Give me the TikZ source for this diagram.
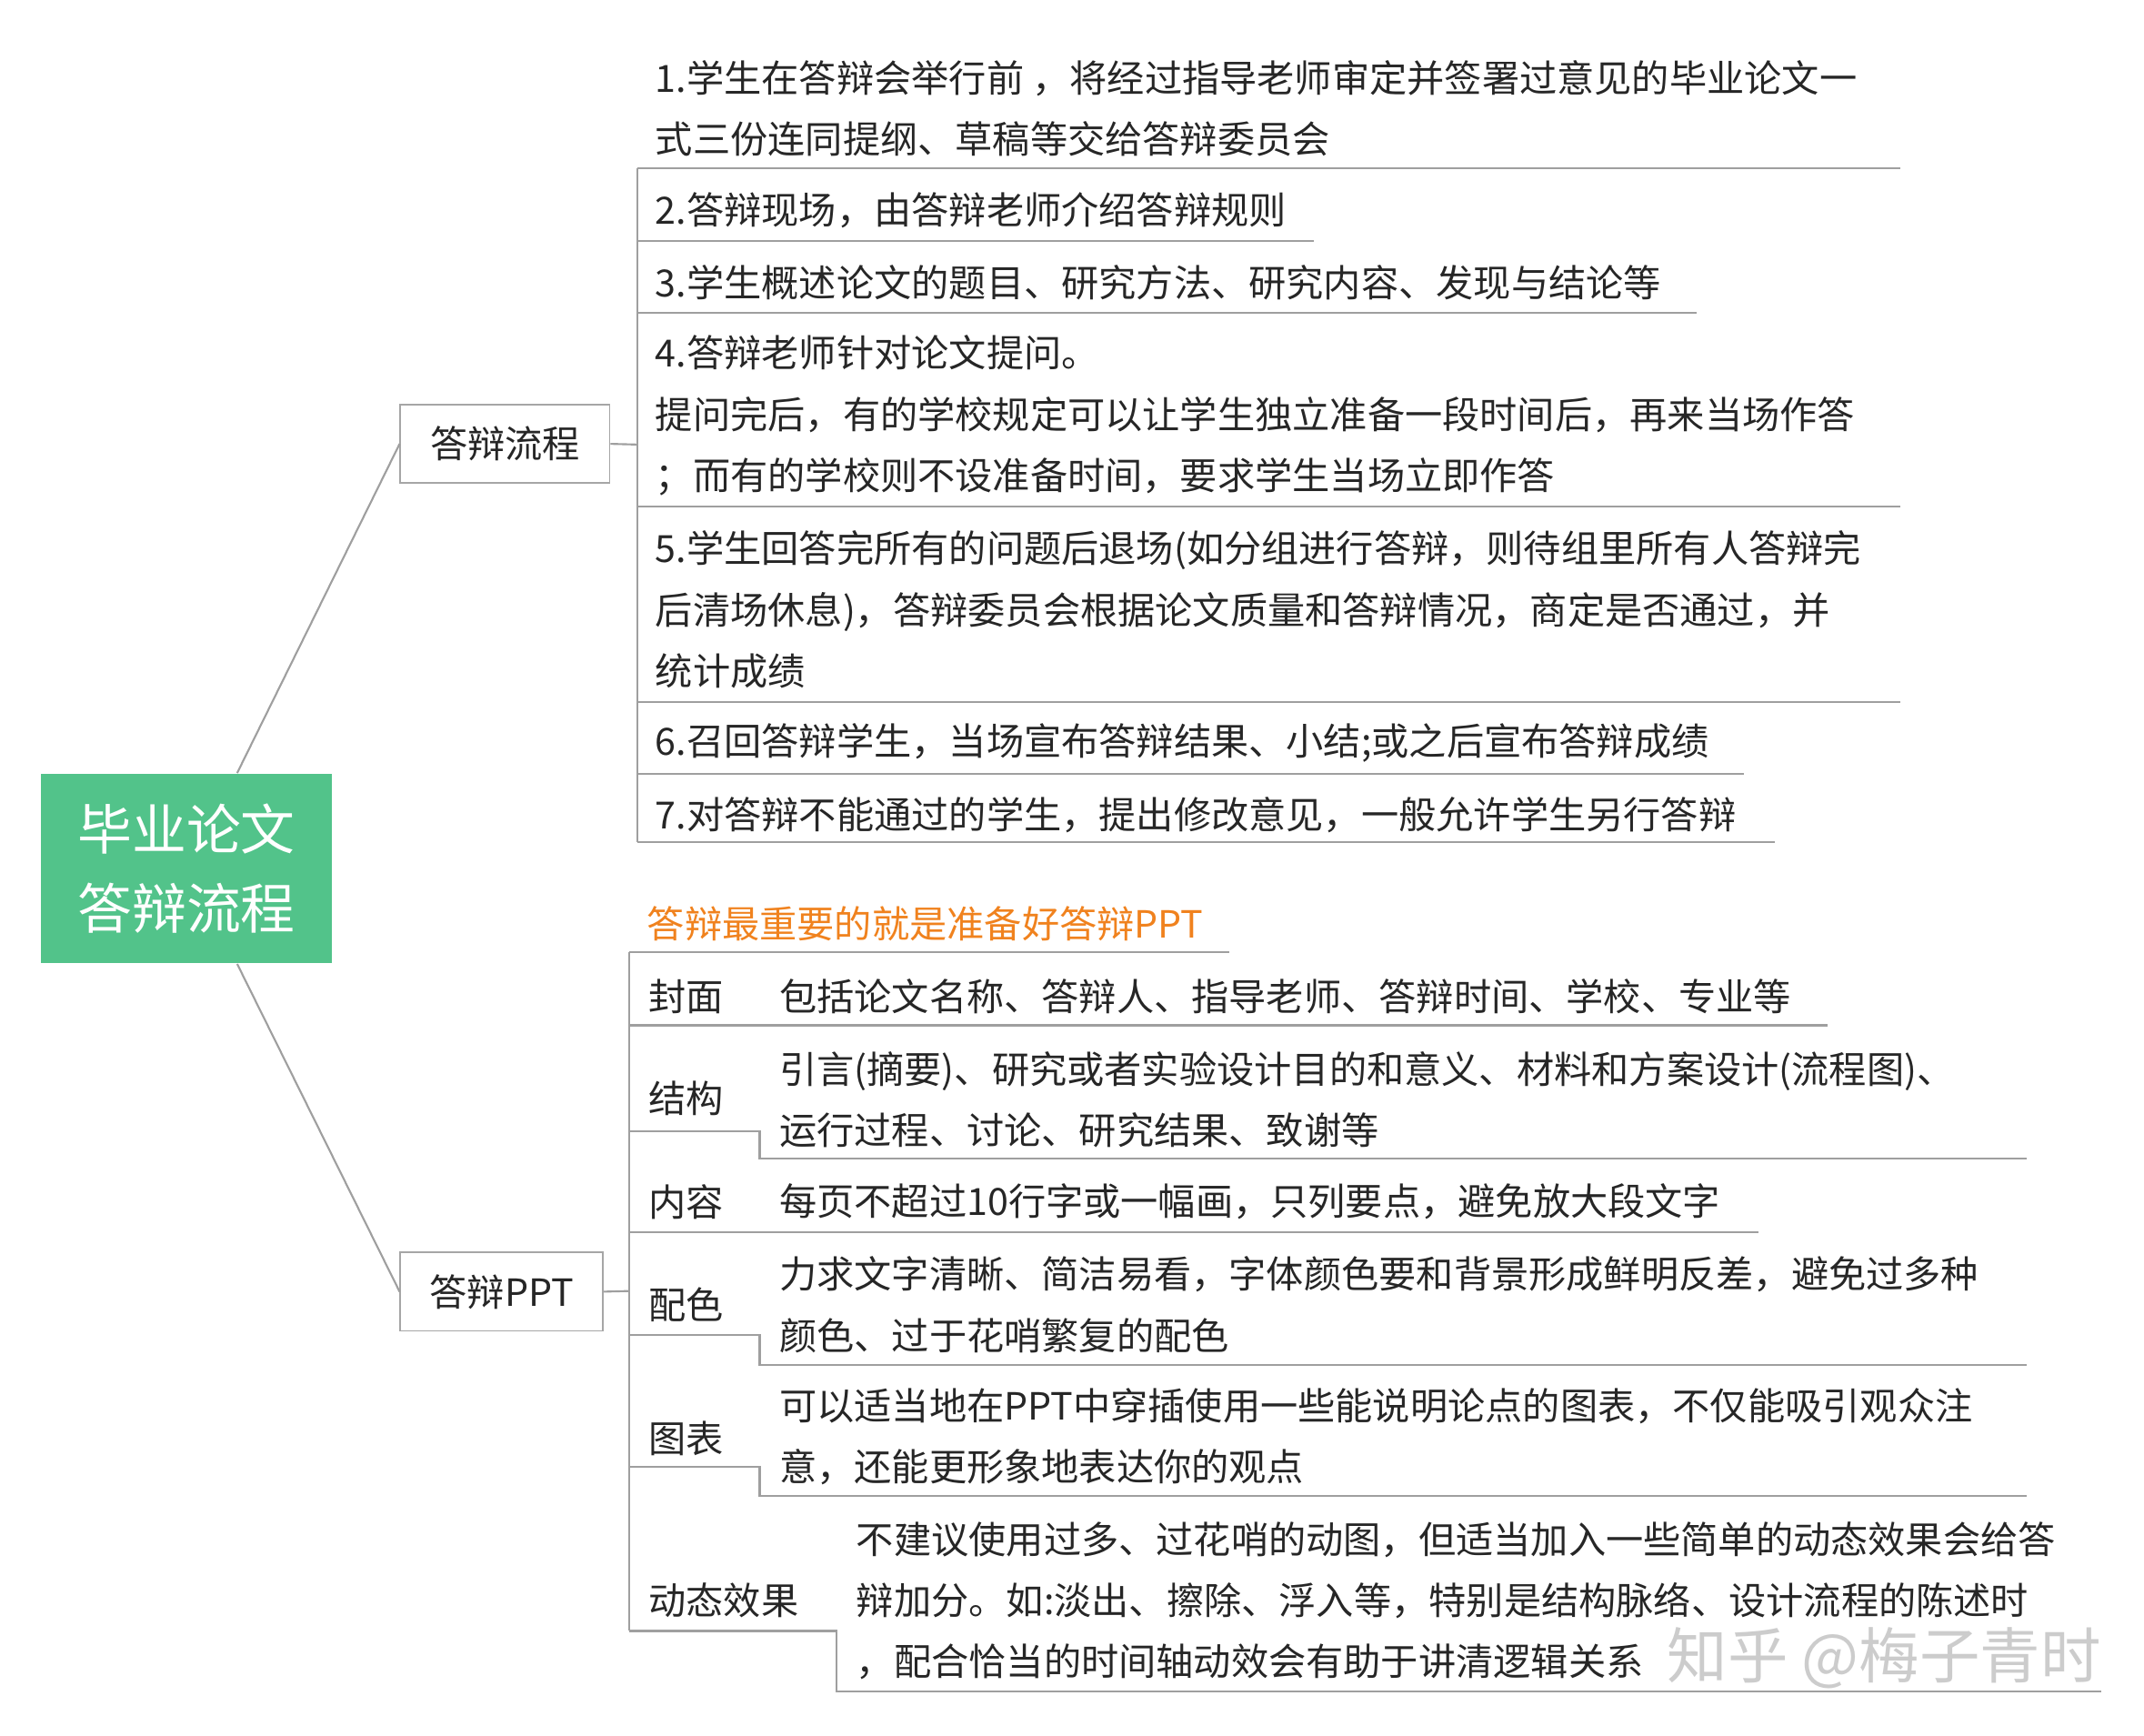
\documentclass[tikz,border=0pt]{standalone}
\usepackage{fontspec}
\setmainfont{Noto Sans CJK SC}
\begin{document}
\begin{tikzpicture}[x=0.02cm,y=-0.02cm,
  ln/.style={draw=gray!75,line width=0.8pt},
  tx/.style={anchor=west,inner sep=0pt,align=left,font=\fontsize{15.5}{25.3}\selectfont,text=black!85},
  bx/.style={draw=gray!70,line width=0.7pt,fill=white,inner sep=0pt,font=\fontsize{15.5}{18}\selectfont,text=black!85}]
\useasboundingbox (0,0) rectangle (1558,1261);
\node[fill={rgb,255:red,82;green,195;blue,138},minimum width=211*0.02cm,minimum height=138*0.02cm,inner sep=0pt,align=center,text=white,font=\fontsize{22.5}{33}\selectfont] (root) at (135.5,631) {毕业论文\\答辩流程};
\node[bx,minimum width=152*0.02cm,minimum height=57*0.02cm] (b1) at (367,322.5) {答辩流程};
\node[bx,minimum width=147*0.02cm,minimum height=57*0.02cm] (b2) at (364.5,938.5) {答辩PPT};
\draw[ln] (root.north east)++(-69,0) -- (b1.west);
\draw[ln] (root.south east)++(-69,0) -- (b2.west);
% top branch
\coordinate (v1) at (463,323);
\draw[ln] (b1.east) -- (v1);
\draw[ln] (463,122) -- (463,612);
\node[tx] (i1) at (476,79) {1.学生在答辩会举行前 ，将经过指导老师审定并签署过意见的毕业论文一\\式三份连同提纲、草稿等交给答辩委员会};
\draw[ln] (463,122) -- (1381,122);
\node[tx] (i2) at (476,153) {2.答辩现场，由答辩老师介绍答辩规则};
\draw[ln] (463,175) -- (955,175);
\node[tx] (i3) at (476,205) {3.学生概述论文的题目、研究方法、研究内容、发现与结论等};
\draw[ln] (463,227) -- (1233,227);
\node[tx] (i4) at (476,302) {4.答辩老师针对论文提问。\\提问完后，有的学校规定可以让学生独立准备一段时间后，再来当场作答\\；而有的学校则不设准备时间，要求学生当场立即作答};
\draw[ln] (463,368) -- (1381,368);
\node[tx] (i5) at (476,443) {5.学生回答完所有的问题后退场(如分组进行答辩，则待组里所有人答辩完\\后清场休息)，答辩委员会根据论文质量和答辩情况，商定是否通过，并\\统计成绩};
\draw[ln] (463,510) -- (1381,510);
\node[tx] (i6) at (476,540) {6.召回答辩学生，当场宣布答辩结果、小结;或之后宣布答辩成绩};
\draw[ln] (463,562) -- (1267,562);
\node[tx] (i7) at (476,592) {7.对答辩不能通过的学生，提出修改意见，一般允许学生另行答辩};
\draw[ln] (463,612) -- (1290,612);
% bottom branch
\coordinate (v2) at (457,938);
\draw[ln] (b2.east) -- (v2);
\node[tx,text={rgb,255:red,240;green,130;blue,30}] (t) at (470,671) {答辩最重要的就是准备好答辩PPT};
\draw[ln] (457,692) -- (893,692);
\draw[ln] (457,692) -- (457,1185);
\node[tx] (l1) at (471,724) {封面};
\node[tx] (s1) at (566,724) {包括论文名称、答辩人、指导老师、答辩时间、学校、专业等};
\draw[ln] (457,745) -- (1328,745);
\node[tx] (l2) at (471,798) {结构};
\node[tx] (s2) at (566,799) {引言(摘要)、研究或者实验设计目的和意义、材料和方案设计(流程图)、\\运行过程、讨论、研究结果、致谢等};
\draw[ln] (457,822) -- (552,822) -- (552,842) -- (1473,842);
\node[tx] (l3) at (471,873) {内容};
\node[tx] (s3) at (566,873) {每页不超过10行字或一幅画，只列要点，避免放大段文字};
\draw[ln] (457,895) -- (1278,895);
\node[tx] (l4) at (471,948) {配色};
\node[tx] (s4) at (566,948) {力求文字清晰、简洁易看，字体颜色要和背景形成鲜明反差，避免过多种\\颜色、过于花哨繁复的配色};
\draw[ln] (457,970) -- (552,970) -- (552,992) -- (1473,992);
\node[tx] (l5) at (471,1045) {图表};
\node[tx] (s5) at (566,1044) {可以适当地在PPT中穿插使用一些能说明论点的图表，不仅能吸引观众注\\意，还能更形象地表达你的观点};
\draw[ln] (457,1066) -- (552,1066) -- (552,1087) -- (1473,1087);
\node[tx] (l6) at (471,1163) {动态效果};
\node[tx] (s6) at (622,1163) {不建议使用过多、过花哨的动图，但适当加入一些简单的动态效果会给答\\辩加分。如:淡出、擦除、浮入等，特别是结构脉络、设计流程的陈述时\\，配合恰当的时间轴动效会有助于讲清逻辑关系};
\draw[ln] (457,1185) -- (608,1185) -- (608,1229) -- (1527,1229);
\node[anchor=east,inner sep=0pt,text=black!20,font=\fontsize{25}{30}\selectfont] (wm) at (1527,1205) {知乎 @梅子青时};
\end{tikzpicture}
\end{document}
